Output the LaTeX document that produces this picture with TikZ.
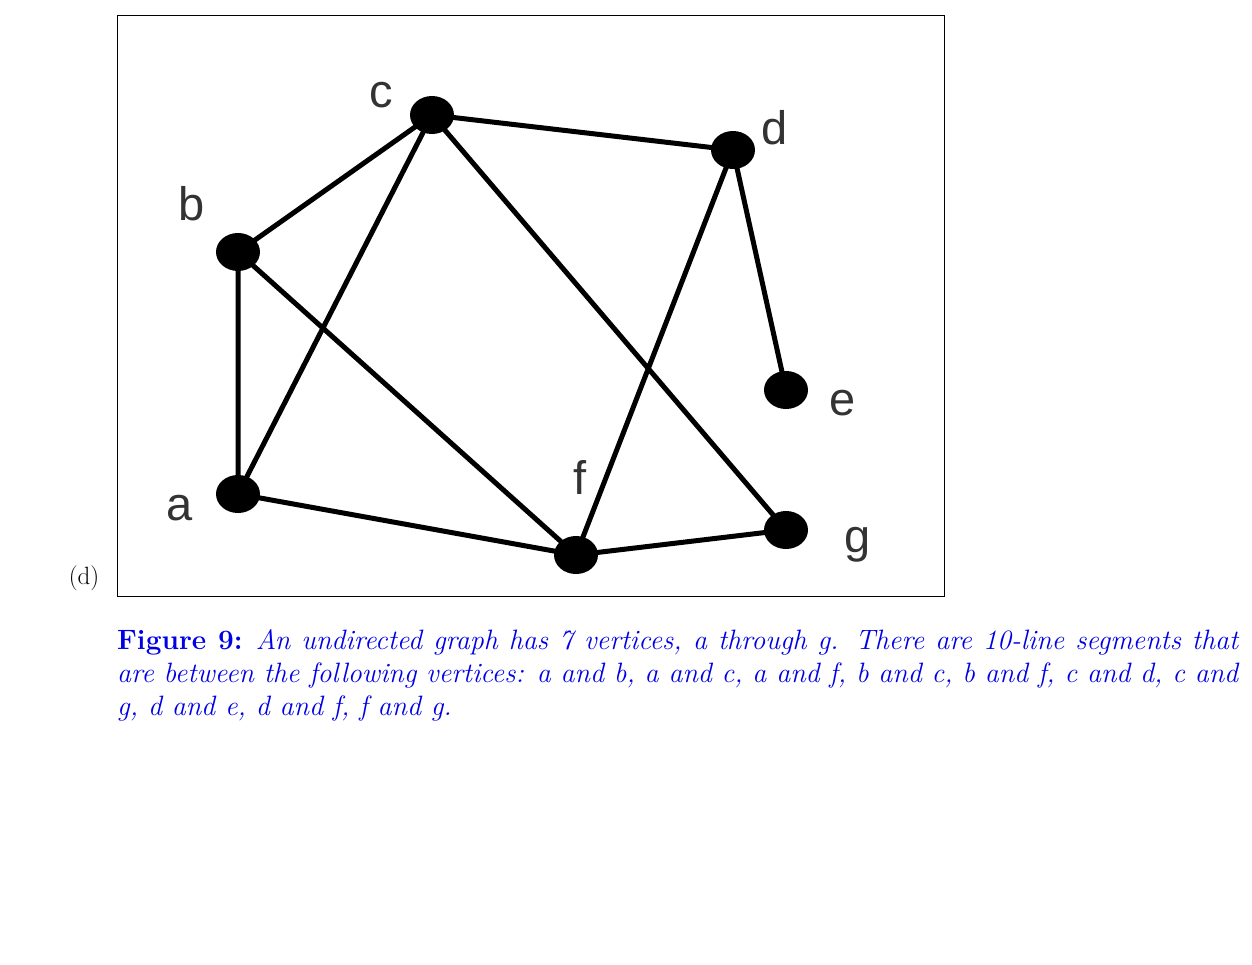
\documentclass[tikz,border=0pt]{standalone}
\usepackage{fontspec}
\usetikzlibrary{shapes.geometric}
\newfontfamily\lsans{Liberation Sans}
\begin{document}
\begin{tikzpicture}[x=1pt,y=-1pt,
  vtx/.style={ellipse,fill=black,inner sep=0pt,minimum width=44pt,minimum height=38pt},
  lab/.style={font=\lsans\fontsize{47}{47}\selectfont,text=black!80,inner sep=0pt},
  edge/.style={line width=5pt}]
\useasboundingbox (0,0) rectangle (1252,964);
\draw[line width=1pt] (117,15) rectangle (944,596);
\node[vtx] (c) at (432,115) {};
\node[vtx] (d) at (733,150) {};
\node[vtx] (b) at (238,252) {};
\node[vtx] (e) at (786,390) {};
\node[vtx] (a) at (238,494) {};
\node[vtx] (f) at (576,555) {};
\node[vtx] (g) at (786,530) {};
\draw[edge] (a.center)--(b.center) (a.center)--(c.center) (a.center)--(f.center)
  (b.center)--(c.center) (b.center)--(f.center) (c.center)--(d.center)
  (c.center)--(g.center) (d.center)--(e.center) (d.center)--(f.center) (f.center)--(g.center);
\node[lab] (lc) at (381,95) {c};
\node[lab] (ld) at (775,128) {d};
\node[lab] (lb) at (192,204) {b};
\node[lab] (le) at (843,403) {e};
\node[lab] (la) at (180,508) {a};
\node[lab] (lf) at (580,477) {f};
\node[lab] (lg) at (858,545) {g};
\node[font=\fontsize{25}{25}\selectfont] (dd) at (84,578) {(d)};
\node[anchor=north west,text width=1121pt,align=justify,inner sep=0pt,text=blue!90!black,
  font=\fontsize{28}{33}\selectfont] (cap) at (117,629)
  {\textbf{Figure 9:} \textit{An undirected graph has 7 vertices, a through g. There are 10-line segments that are between the following vertices: a and b, a and c, a and f, b and c, b and f, c and d, c and g, d and e, d and f, f and g.}};
\end{tikzpicture}
\end{document}
